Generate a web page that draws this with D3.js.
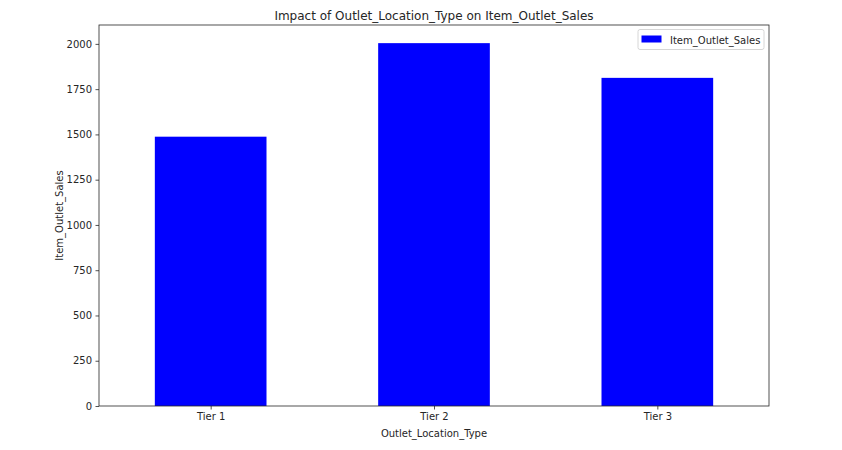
<!DOCTYPE html>
<html>
<head>
<meta charset="utf-8">
<script src="https://cdn.jsdelivr.net/npm/d3@7"></script>
<style>
  body { margin: 0; background: #fff; }
  text { font-family: "DejaVu Sans", sans-serif; fill: #262626; }
</style>
</head>
<body>
<div id="chart"></div>
<script>
const categories = ['Tier 1', 'Tier 2', 'Tier 3']
const sales = [1487.4, 2004.06, 1812.31]
const yTicks = [0, 250, 500, 750, 1000, 1250, 1500, 1750, 2000]

const W = 842, H = 450
const margin = { top: 25, left: 99, right: 73, bottom: 44 }
const width = W - margin.left - margin.right
const height = H - margin.top - margin.bottom

const svg = d3.select('#chart').append('svg')
  .attr('width', W).attr('height', H)

const g = svg.append('g')
  .attr('transform', `translate(${margin.left},${margin.top})`)

// pandas bar: category i centred at i, xlim -0.5..n-0.5, bar width 0.5
const x = d3.scaleLinear().domain([-0.5, categories.length - 0.5]).range([0, width])
const y = d3.scaleLinear().domain([0, d3.max(sales) * 1.05]).range([height, 0])

g.selectAll('rect.bar')
  .data(sales)
  .enter()
  .append('rect')
  .attr('class', 'bar')
  .attr('x', (d, i) => x(i - 0.25))
  .attr('width', (d, i) => x(i + 0.25) - x(i - 0.25))
  .attr('y', d => y(d))
  .attr('height', d => y(0) - y(d))
  .attr('fill', '#0000ff')

// axes
const yAxis = g.append('g')
  .call(d3.axisLeft(y).tickValues(yTicks).tickSize(3.5).tickPadding(3.5).tickFormat(d3.format('d')))
const xAxis = g.append('g')
  .attr('transform', `translate(0,${height})`)
  .call(d3.axisBottom(x).tickValues(d3.range(categories.length)).tickSize(3.5).tickPadding(3.5)
    .tickFormat(i => categories[i]))

;[xAxis, yAxis].forEach(a => {
  a.selectAll('text').attr('font-size', 10).attr('font-family', 'DejaVu Sans')
  a.selectAll('line').attr('stroke', '#262626').attr('stroke-width', 0.8)
  a.select('.domain').remove()
})

// frame
g.append('rect')
  .attr('width', width).attr('height', height)
  .attr('fill', 'none').attr('stroke', '#262626').attr('stroke-width', 0.8)

// labels
svg.append('text')
  .attr('x', margin.left + width / 2).attr('y', 20)
  .attr('text-anchor', 'middle').attr('font-size', 12)
  .text('Impact of Outlet_Location_Type on Item_Outlet_Sales')

svg.append('text')
  .attr('x', margin.left + width / 2).attr('y', margin.top + height + 31)
  .attr('text-anchor', 'middle').attr('font-size', 10)
  .text('Outlet_Location_Type')

svg.append('text')
  .attr('transform', `translate(63,${margin.top + height / 2}) rotate(-90)`)
  .attr('text-anchor', 'middle').attr('font-size', 10)
  .text('Item_Outlet_Sales')

// legend
const legend = g.append('g').attr('transform', `translate(${width - 131},4.5)`)
legend.append('rect')
  .attr('width', 126).attr('height', 20).attr('rx', 2)
  .attr('fill', '#fff').attr('fill-opacity', 0.8)
  .attr('stroke', '#cccccc').attr('stroke-width', 0.8)
legend.append('rect')
  .attr('x', 3.5).attr('y', 6).attr('width', 20).attr('height', 7)
  .attr('fill', '#0000ff')
legend.append('text')
  .attr('x', 32).attr('y', 14).attr('font-size', 10)
  .text('Item_Outlet_Sales')
</script>
</body>
</html>
